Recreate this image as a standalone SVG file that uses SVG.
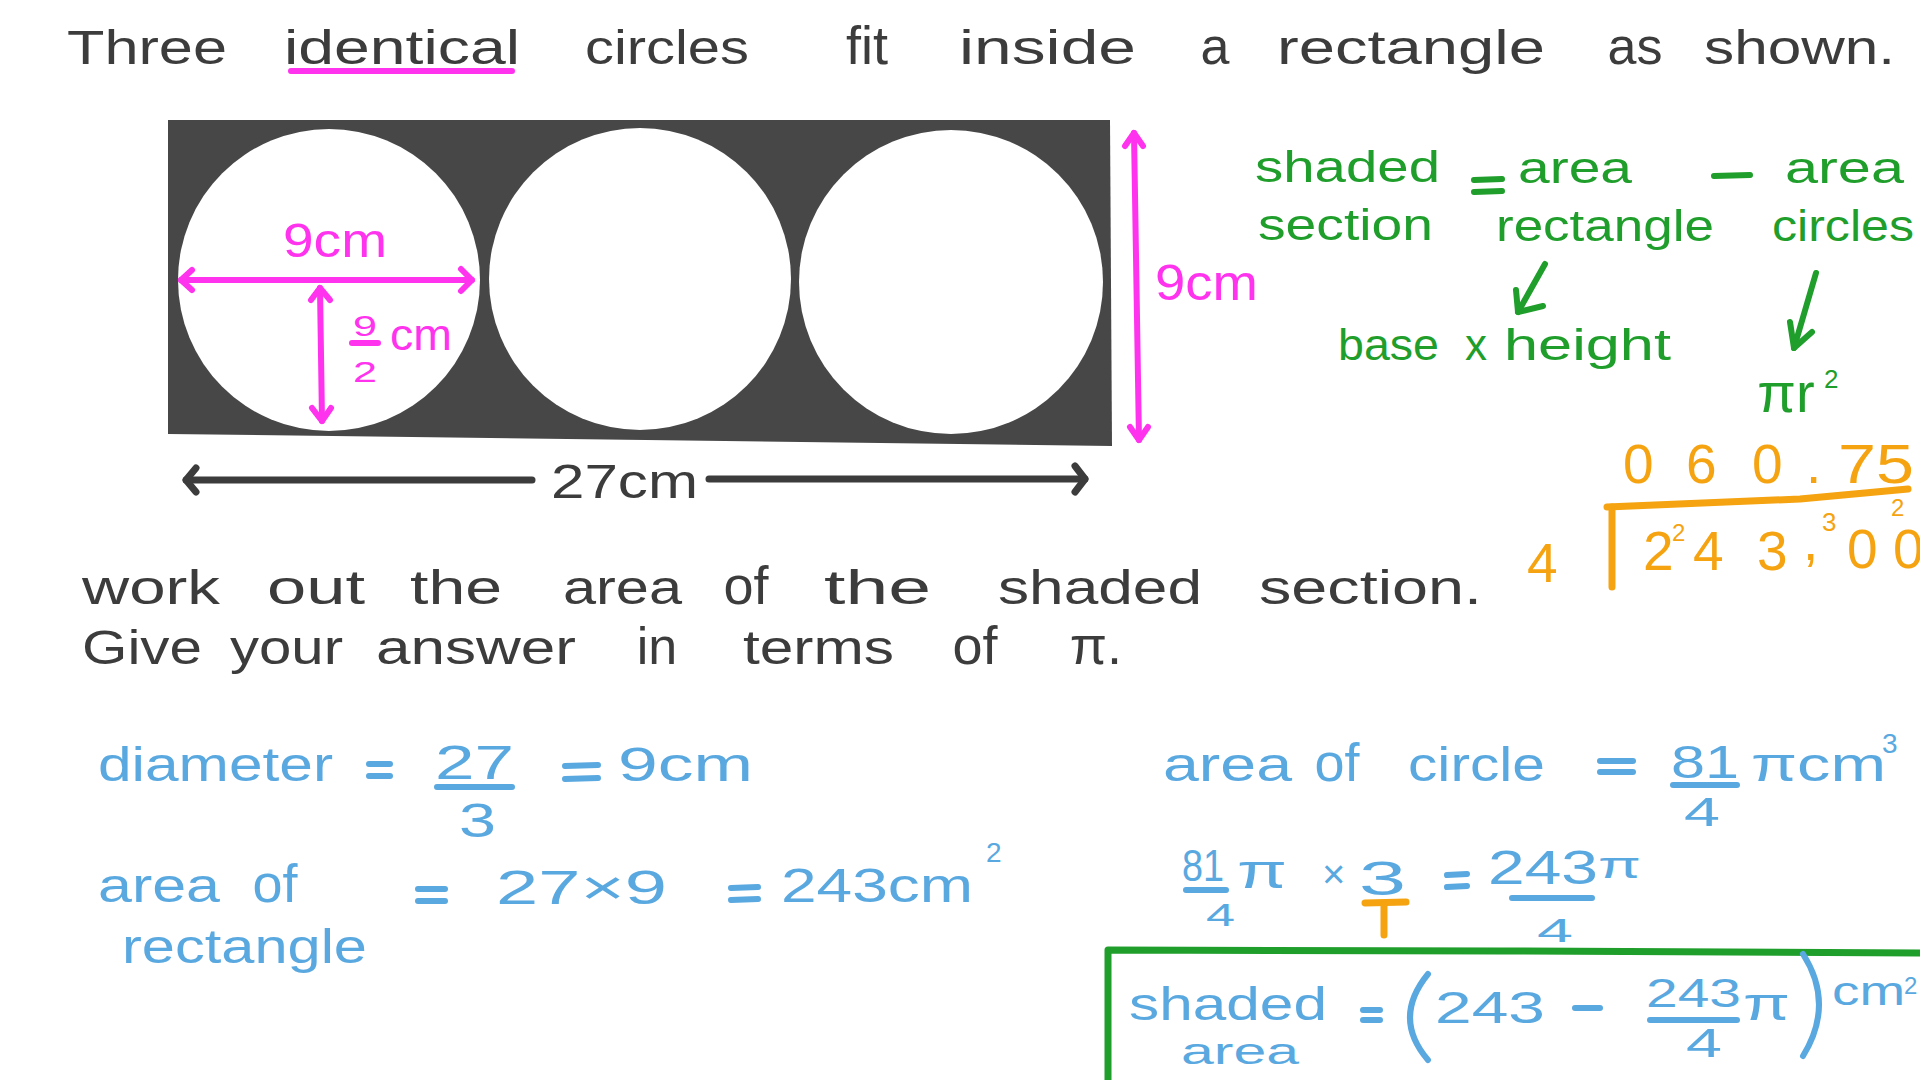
<svg xmlns="http://www.w3.org/2000/svg" width="1920" height="1080" viewBox="0 0 1920 1080">
<defs>
<style>
text{font-family:"Liberation Sans",Arial,sans-serif}
.k{fill:#3c3c3c}
.p{fill:#ff33ee}
.g{fill:#1f9e2b}
.o{fill:#f5a310}
.b{fill:#5aa8e0}
.t48{font-size:48px}
.t44{font-size:44px}
.t50{font-size:50px}
.t55{font-size:55px}
.t30{font-size:30px}
.m{text-anchor:middle}
.ln{fill:none;stroke-linecap:round;stroke-linejoin:round}
.pk{stroke:#ff33ee;stroke-width:6}
.gk{stroke:#1f9e2b;stroke-width:6}
.bk{stroke:#3c3c3c;stroke-width:7}
.ok{stroke:#f5a310;stroke-width:7}
.bl{stroke:#5aa8e0;stroke-width:6}
</style>
</defs>
<rect width="1920" height="1080" fill="#ffffff"/>

<!-- title -->
<g id="title" class="k t48">
<text x="67" y="64" textLength="160" lengthAdjust="spacingAndGlyphs">Three</text>
<text x="284" y="64" textLength="236" lengthAdjust="spacingAndGlyphs">identical</text>
<text x="585" y="64" textLength="164" lengthAdjust="spacingAndGlyphs">circles</text>
<text class="m" x="867" y="64" font-size="54">fit</text>
<text x="959" y="64" textLength="177" lengthAdjust="spacingAndGlyphs">inside</text>
<text class="m" x="1215" y="64" font-size="52">a</text>
<text x="1277" y="64" textLength="268" lengthAdjust="spacingAndGlyphs">rectangle</text>
<text class="m" x="1635" y="64" font-size="52">as</text>
<text x="1704" y="64" textLength="191" lengthAdjust="spacingAndGlyphs">shown.</text>
</g>
<line class="ln pk" x1="291" y1="71" x2="512" y2="71" stroke-width="7"/>

<!-- figure -->
<g id="figure">
<polygon points="168,120 1110,120 1112,446 168,434" fill="#474747"/>
<circle cx="329" cy="280" r="151" fill="#ffffff"/>
<circle cx="640" cy="279" r="151" fill="#ffffff"/>
<circle cx="951" cy="282" r="152" fill="#ffffff"/>
</g>

<!-- pink measurements -->
<g id="pink-measures">
<line class="ln pk" x1="181" y1="280" x2="472" y2="280"/>
<polyline class="ln pk" points="192,270 181,280 192,290"/>
<polyline class="ln pk" points="461,269 472,280 461,291"/>
<line class="ln pk" x1="320" y1="288" x2="322" y2="421"/>
<polyline class="ln pk" points="311,300 320,288 330,300"/>
<polyline class="ln pk" points="312,408 322,421 331,408"/>
<text class="p t48" x="283" y="257" textLength="104" lengthAdjust="spacingAndGlyphs">9cm</text>
<text class="p t30" x="353" y="336" textLength="24" lengthAdjust="spacingAndGlyphs">9</text>
<line class="ln pk" x1="352" y1="343" x2="378" y2="343" stroke-width="5"/>
<text class="p t30" x="353" y="382" textLength="24" lengthAdjust="spacingAndGlyphs">2</text>
<text class="p t44" x="390" y="350" textLength="62" lengthAdjust="spacingAndGlyphs">cm</text>
<line class="ln pk" x1="1134" y1="133" x2="1139" y2="440"/>
<polyline class="ln pk" points="1125,146 1134,133 1143,146"/>
<polyline class="ln pk" points="1130,427 1139,440 1148,427"/>
<text class="p t50" x="1155" y="300" textLength="103" lengthAdjust="spacingAndGlyphs">9cm</text>
</g>

<!-- bottom width arrow -->
<g id="width-arrow">
<line class="ln bk" x1="186" y1="480" x2="532" y2="480"/>
<polyline class="ln bk" points="196,468 186,480 196,492"/>
<line class="ln bk" x1="709" y1="479" x2="1085" y2="479"/>
<polyline class="ln bk" points="1075,466 1085,479 1075,492"/>
<text class="k t48" x="551" y="498" textLength="147" lengthAdjust="spacingAndGlyphs">27cm</text>
</g>

<!-- green formula -->
<g id="green-formula" class="g t44">
<text x="1255" y="182" textLength="185" lengthAdjust="spacingAndGlyphs">shaded</text>
<text x="1258" y="240" textLength="175" lengthAdjust="spacingAndGlyphs">section</text>
<line class="ln gk" x1="1474" y1="180" x2="1502" y2="179" stroke-width="5"/>
<line class="ln gk" x1="1474" y1="192" x2="1502" y2="191" stroke-width="5"/>
<text x="1518" y="183" textLength="114" lengthAdjust="spacingAndGlyphs">area</text>
<text x="1496" y="241" textLength="218" lengthAdjust="spacingAndGlyphs">rectangle</text>
<line class="ln gk" x1="1714" y1="176" x2="1750" y2="175" stroke-width="5"/>
<text x="1785" y="183" textLength="119" lengthAdjust="spacingAndGlyphs">area</text>
<text x="1772" y="241" textLength="142" lengthAdjust="spacingAndGlyphs">circles</text>
<line class="ln gk" x1="1545" y1="264" x2="1518" y2="312"/>
<polyline class="ln gk" points="1516,290 1518,312 1543,306"/>
<line class="ln gk" x1="1816" y1="273" x2="1794" y2="348"/>
<polyline class="ln gk" points="1790,322 1794,348 1812,332"/>
<text x="1338" y="360" textLength="101" lengthAdjust="spacingAndGlyphs">base</text>
<text x="1465" y="360">x</text>
<text x="1504" y="360" textLength="167" lengthAdjust="spacingAndGlyphs">height</text>
<text class="m" x="1786" y="412" font-size="56">πr</text>
<text x="1824" y="388" font-size="26">2</text>
</g>

<!-- orange division -->
<g id="division" class="o t55">
<text x="1623" y="483">0</text>
<text x="1686" y="483">6</text>
<text x="1752" y="483">0</text>
<text x="1806" y="483">.</text>
<text x="1838" y="483" textLength="76" lengthAdjust="spacingAndGlyphs">75</text>
<polyline class="ln ok" points="1607,507 1800,499 1908,489"/>
<line class="ln ok" x1="1612" y1="507" x2="1612" y2="587"/>
<text x="1527" y="582">4</text>
<text x="1643" y="570">2</text>
<text x="1672" y="541" font-size="24">2</text>
<text x="1693" y="570">4</text>
<text x="1757" y="570">3</text>
<text x="1803" y="560">,</text>
<text x="1822" y="531" font-size="26">3</text>
<text x="1847" y="568">0</text>
<text x="1891" y="516" font-size="24">2</text>
<text x="1893" y="568">0</text>
</g>

<!-- question -->
<g id="question" class="k t48">
<text x="82" y="604" textLength="138" lengthAdjust="spacingAndGlyphs">work</text>
<text x="267" y="604" textLength="98" lengthAdjust="spacingAndGlyphs">out</text>
<text x="410" y="604" textLength="92" lengthAdjust="spacingAndGlyphs">the</text>
<text x="563" y="604" textLength="119" lengthAdjust="spacingAndGlyphs">area</text>
<text class="m" x="746" y="604" font-size="54">of</text>
<text x="824" y="604" textLength="107" lengthAdjust="spacingAndGlyphs">the</text>
<text x="998" y="604" textLength="204" lengthAdjust="spacingAndGlyphs">shaded</text>
<text x="1259" y="604" textLength="223" lengthAdjust="spacingAndGlyphs">section.</text>
<text x="82" y="664" textLength="120" lengthAdjust="spacingAndGlyphs">Give</text>
<text x="230" y="664" textLength="113" lengthAdjust="spacingAndGlyphs">your</text>
<text x="376" y="664" textLength="200" lengthAdjust="spacingAndGlyphs">answer</text>
<text class="m" x="657" y="664" font-size="52">in</text>
<text x="743" y="664" textLength="151" lengthAdjust="spacingAndGlyphs">terms</text>
<text class="m" x="975" y="664" font-size="54">of</text>
<text class="m" x="1096" y="664" font-size="54">π.</text>
</g>

<!-- blue working left -->
<g id="diameter" class="b t48">
<text x="98" y="781" textLength="235" lengthAdjust="spacingAndGlyphs">diameter</text>
<line class="ln bl" x1="369" y1="764" x2="390" y2="764" stroke-width="5"/>
<line class="ln bl" x1="369" y1="776" x2="390" y2="776" stroke-width="5"/>
<text x="435" y="779" textLength="79" lengthAdjust="spacingAndGlyphs">27</text>
<line class="ln bl" x1="437" y1="787" x2="512" y2="787"/>
<text x="459" y="837" textLength="37" lengthAdjust="spacingAndGlyphs">3</text>
<line class="ln bl" x1="565" y1="766" x2="598" y2="765" stroke-width="5"/>
<line class="ln bl" x1="565" y1="779" x2="598" y2="778" stroke-width="5"/>
<text x="618" y="781" textLength="135" lengthAdjust="spacingAndGlyphs">9cm</text>
</g>

<g id="area-rectangle" class="b t48">
<text x="98" y="902" textLength="122" lengthAdjust="spacingAndGlyphs">area</text>
<text class="m" x="275" y="902" font-size="54">of</text>
<text x="122" y="963" textLength="245" lengthAdjust="spacingAndGlyphs">rectangle</text>
<line class="ln bl" x1="418" y1="889" x2="445" y2="889" stroke-width="5"/>
<line class="ln bl" x1="418" y1="901" x2="445" y2="901" stroke-width="5"/>
<text x="496" y="904" textLength="171" lengthAdjust="spacingAndGlyphs">27×9</text>
<line class="ln bl" x1="731" y1="888" x2="758" y2="887" stroke-width="5"/>
<line class="ln bl" x1="731" y1="900" x2="758" y2="899" stroke-width="5"/>
<text x="781" y="902" textLength="192" lengthAdjust="spacingAndGlyphs">243cm</text>
<text x="986" y="862" font-size="28">2</text>
</g>

<!-- blue working right -->
<g id="area-circle" class="b t48">
<text x="1163" y="781" textLength="129" lengthAdjust="spacingAndGlyphs">area</text>
<text class="m" x="1337" y="781" font-size="54">of</text>
<text x="1408" y="781" textLength="137" lengthAdjust="spacingAndGlyphs">circle</text>
<line class="ln bl" x1="1600" y1="761" x2="1633" y2="761" stroke-width="5"/>
<line class="ln bl" x1="1600" y1="772" x2="1633" y2="772" stroke-width="5"/>
<text x="1671" y="778" font-size="46" textLength="68" lengthAdjust="spacingAndGlyphs">81</text>
<line class="ln bl" x1="1673" y1="785" x2="1737" y2="785"/>
<text x="1684" y="826" font-size="40" textLength="36" lengthAdjust="spacingAndGlyphs">4</text>
<text x="1751" y="781" textLength="135" lengthAdjust="spacingAndGlyphs">πcm</text>
<text x="1882" y="753" font-size="28">3</text>
</g>

<g id="circles-total" class="b t48">
<text x="1182" y="881" font-size="44" textLength="42" lengthAdjust="spacingAndGlyphs">81</text>
<line class="ln bl" x1="1186" y1="890" x2="1226" y2="890"/>
<text x="1206" y="926" font-size="32" textLength="29" lengthAdjust="spacingAndGlyphs">4</text>
<text x="1237" y="888" textLength="50" lengthAdjust="spacingAndGlyphs">π</text>
<text x="1322" y="888" font-size="40">×</text>
<text x="1359" y="895" textLength="47" lengthAdjust="spacingAndGlyphs">3</text>
<line class="ln ok" x1="1365" y1="903" x2="1406" y2="902"/>
<line class="ln ok" x1="1384" y1="905" x2="1384" y2="935" stroke-width="5"/>
<line class="ln bl" x1="1447" y1="875" x2="1467" y2="874" stroke-width="5"/>
<line class="ln bl" x1="1447" y1="887" x2="1467" y2="886" stroke-width="5"/>
<text x="1488" y="884" textLength="110" lengthAdjust="spacingAndGlyphs">243</text>
<text x="1598" y="878" font-size="36" textLength="43" lengthAdjust="spacingAndGlyphs">π</text>
<line class="ln bl" x1="1512" y1="898" x2="1592" y2="898"/>
<text x="1537" y="942" font-size="34" textLength="36" lengthAdjust="spacingAndGlyphs">4</text>
</g>

<!-- answer box -->
<g id="answer-box">
<polyline class="ln" points="1108,1080 1108,950 1500,951 1920,953" stroke="#1f9e2b" stroke-width="7"/>
<g class="b">
<text x="1129" y="1020" font-size="46" textLength="198" lengthAdjust="spacingAndGlyphs">shaded</text>
<text x="1181" y="1064" font-size="36" textLength="118" lengthAdjust="spacingAndGlyphs">area</text>
<line class="ln bl" x1="1363" y1="1010" x2="1380" y2="1010" stroke-width="5"/>
<line class="ln bl" x1="1363" y1="1020" x2="1380" y2="1020" stroke-width="5"/>
<path class="ln bl" d="M1428,974 Q1392,1018 1428,1060"/>
<text x="1435" y="1023" font-size="44" textLength="110" lengthAdjust="spacingAndGlyphs">243</text>
<line class="ln bl" x1="1575" y1="1008" x2="1600" y2="1008"/>
<text x="1646" y="1007" font-size="40" textLength="95" lengthAdjust="spacingAndGlyphs">243</text>
<line class="ln bl" x1="1650" y1="1020" x2="1737" y2="1020"/>
<text x="1686" y="1057" font-size="40" textLength="36" lengthAdjust="spacingAndGlyphs">4</text>
<text x="1743" y="1020" font-size="46" textLength="47" lengthAdjust="spacingAndGlyphs">π</text>
<path class="ln bl" d="M1803,954 Q1835,1004 1803,1056"/>
<text x="1832" y="1005" font-size="40" textLength="73" lengthAdjust="spacingAndGlyphs">cm</text>
<text x="1904" y="994" font-size="24">2</text>
</g>
</g>
</svg>
